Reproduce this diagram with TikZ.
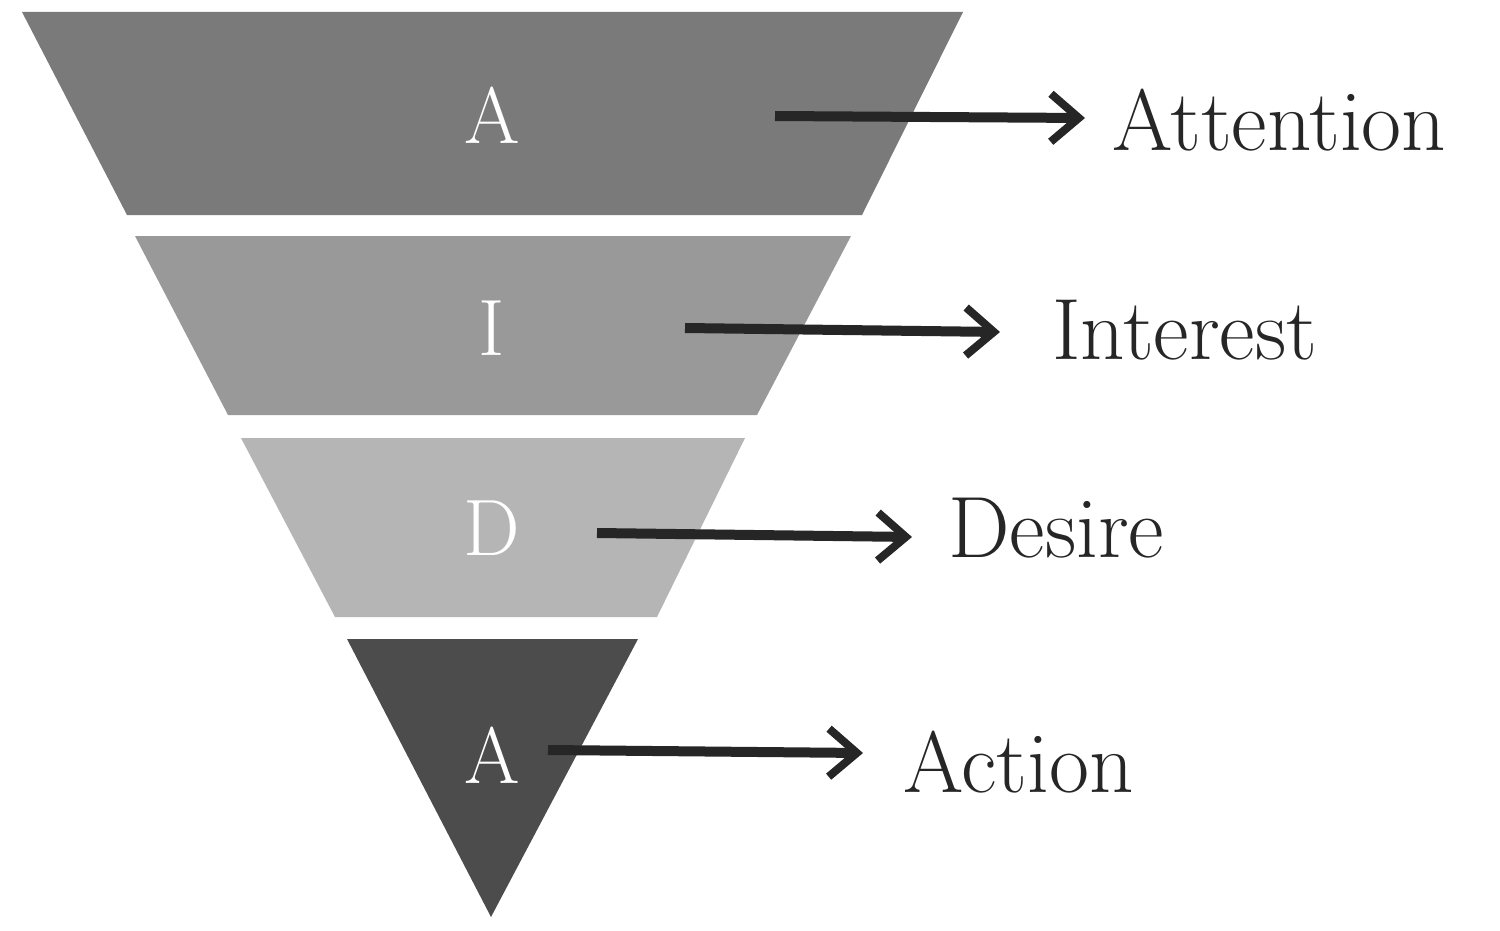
\documentclass[tikz,border=0pt]{standalone}
\usetikzlibrary{arrows.meta}
\begin{document}
\begin{tikzpicture}[x=1pt,y=-1pt,
  letter/.style={text=white,font=\fontsize{80}{80}\selectfont,inner sep=0pt},
  lab/.style={text=black!85,font=\fontsize{87}{87}\selectfont,anchor=west,inner sep=0pt},
  brush/.style={line width=10pt,black!85,-{Straight Barb[length=28pt,width=48pt,line width=8pt]}}]
\useasboundingbox (0,0) rectangle (1500,931);
\fill[white] (0,0) rectangle (1500,931);
\fill[black!52] (22,12) -- (963,12) -- (862,215) -- (127,215) -- cycle;
\fill[black!40] (135,236) -- (851,236) -- (757,415) -- (228,415) -- cycle;
\fill[black!29] (241,438) -- (745,438) -- (657,617) -- (335,617) -- cycle;
\fill[black!70] (347,639) -- (638,639) -- (491,917) -- cycle;
\node[letter] (l1) at (492,115) {A};
\node[letter] (l2) at (492,328) {I};
\node[letter] (l3) at (492,528) {D};
\node[letter] (l4) at (492,755) {A};
\node[lab] (t1) at (1112,120) {Attention};
\node[lab] (t2) at (1052,330) {Interest};
\node[lab] (t3) at (948,528) {Desire};
\node[lab] (t4) at (903,762) {Action};
\coordinate (s1) at (775,116); \coordinate (e1) at (1085,118);
\coordinate (s2) at (685,328); \coordinate (e2) at (1000,332);
\coordinate (s3) at (597,533); \coordinate (e3) at (912,537);
\coordinate (s4) at (548,750); \coordinate (e4) at (863,753);
\foreach \i in {1,...,4}{\draw[brush] (s\i) -- (e\i);}
\end{tikzpicture}
\end{document}
